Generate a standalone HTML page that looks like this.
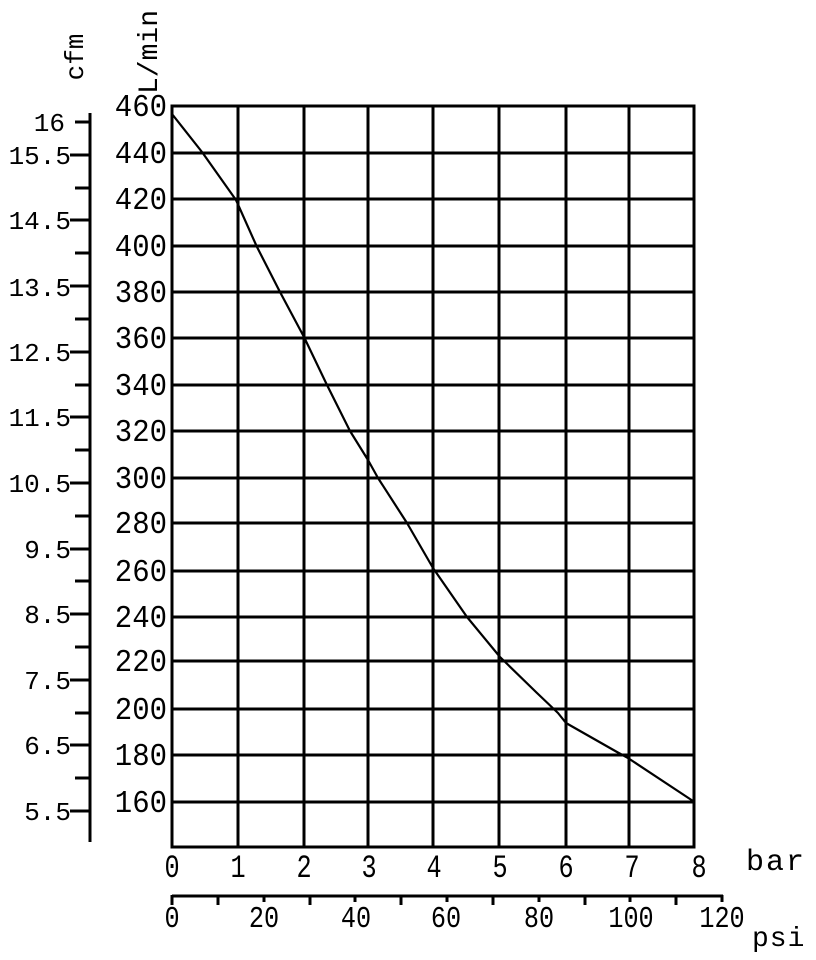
<!DOCTYPE html>
<html>
<head>
<meta charset="utf-8">
<style>
  html,body{margin:0;padding:0;background:#fff;}
  svg{display:block;}
  text{font-family:"Liberation Mono","DejaVu Sans Mono",monospace;fill:#000;}
</style>
</head>
<body>
<svg width="816" height="960" viewBox="0 0 816 960" xmlns="http://www.w3.org/2000/svg">
  <rect width="816" height="960" fill="#fff"/>
  <!-- grid -->
  <g stroke="#000" stroke-width="3" fill="none">
    <line x1="172" y1="106" x2="172" y2="847"/>
    <line x1="238" y1="106" x2="238" y2="847"/>
    <line x1="304" y1="106" x2="304" y2="847"/>
    <line x1="368" y1="106" x2="368" y2="847"/>
    <line x1="433" y1="106" x2="433" y2="847"/>
    <line x1="499" y1="106" x2="499" y2="847"/>
    <line x1="566" y1="106" x2="566" y2="847"/>
    <line x1="629" y1="106" x2="629" y2="847"/>
    <line x1="694" y1="106" x2="694" y2="847"/>
    <line x1="170.5" y1="106" x2="695.5" y2="106"/>
    <line x1="170.5" y1="153" x2="695.5" y2="153"/>
    <line x1="170.5" y1="199" x2="695.5" y2="199"/>
    <line x1="170.5" y1="246" x2="695.5" y2="246"/>
    <line x1="170.5" y1="292" x2="695.5" y2="292"/>
    <line x1="170.5" y1="338" x2="695.5" y2="338"/>
    <line x1="170.5" y1="385" x2="695.5" y2="385"/>
    <line x1="170.5" y1="431" x2="695.5" y2="431"/>
    <line x1="170.5" y1="478" x2="695.5" y2="478"/>
    <line x1="170.5" y1="523" x2="695.5" y2="523"/>
    <line x1="170.5" y1="571" x2="695.5" y2="571"/>
    <line x1="170.5" y1="617" x2="695.5" y2="617"/>
    <line x1="170.5" y1="661" x2="695.5" y2="661"/>
    <line x1="170.5" y1="709" x2="695.5" y2="709"/>
    <line x1="170.5" y1="755" x2="695.5" y2="755"/>
    <line x1="170.5" y1="802" x2="695.5" y2="802"/>
    <line x1="170.5" y1="847" x2="695.5" y2="847"/>
  </g>
  <!-- curve -->
  <polyline fill="none" stroke="#000" stroke-width="2.2" stroke-linejoin="round"
    points="172,114 202,152 236,200 257,247 280,292 304,337 327,385 350,431 368,460 378,478 407,523 433,568 467,617 500,657 537,693 558,713 566,723 617,752 628,758 693,801"/>

  <!-- L/min labels -->
  <g font-size="29" text-anchor="end">
    <text transform="translate(167,116) scale(1,1.1)">460</text>
    <text transform="translate(167,163) scale(1,1.1)">440</text>
    <text transform="translate(167,209) scale(1,1.1)">420</text>
    <text transform="translate(167,256) scale(1,1.1)">400</text>
    <text transform="translate(167,302) scale(1,1.1)">380</text>
    <text transform="translate(167,348) scale(1,1.1)">360</text>
    <text transform="translate(167,395) scale(1,1.1)">340</text>
    <text transform="translate(167,441) scale(1,1.1)">320</text>
    <text transform="translate(167,488) scale(1,1.1)">300</text>
    <text transform="translate(167,533) scale(1,1.1)">280</text>
    <text transform="translate(167,581) scale(1,1.1)">260</text>
    <text transform="translate(167,627) scale(1,1.1)">240</text>
    <text transform="translate(167,671) scale(1,1.1)">220</text>
    <text transform="translate(167,719) scale(1,1.1)">200</text>
    <text transform="translate(167,765) scale(1,1.1)">180</text>
    <text transform="translate(167,812) scale(1,1.1)">160</text>
  </g>

  <!-- cfm axis -->
  <g stroke="#000" stroke-width="3">
    <line x1="90" y1="113" x2="90" y2="842"/>
    <line x1="75" y1="122" x2="90" y2="122"/>
    <line x1="70" y1="155" x2="90" y2="155"/>
    <line x1="75" y1="188" x2="90" y2="188"/>
    <line x1="70" y1="220" x2="90" y2="220"/>
    <line x1="75" y1="253" x2="90" y2="253"/>
    <line x1="70" y1="286" x2="90" y2="286"/>
    <line x1="75" y1="319" x2="90" y2="319"/>
    <line x1="70" y1="352" x2="90" y2="352"/>
    <line x1="75" y1="385" x2="90" y2="385"/>
    <line x1="70" y1="417" x2="90" y2="417"/>
    <line x1="75" y1="450" x2="90" y2="450"/>
    <line x1="70" y1="483" x2="90" y2="483"/>
    <line x1="75" y1="516" x2="90" y2="516"/>
    <line x1="70" y1="549" x2="90" y2="549"/>
    <line x1="75" y1="581" x2="90" y2="581"/>
    <line x1="70" y1="614" x2="90" y2="614"/>
    <line x1="75" y1="647" x2="90" y2="647"/>
    <line x1="70" y1="680" x2="90" y2="680"/>
    <line x1="75" y1="713" x2="90" y2="713"/>
    <line x1="70" y1="745" x2="90" y2="745"/>
    <line x1="75" y1="778" x2="90" y2="778"/>
    <line x1="70" y1="811" x2="90" y2="811"/>
  </g>
  <g font-size="26" text-anchor="end">
    <text x="65" y="131">16</text>
    <text x="71" y="164">15.5</text>
    <text x="71" y="229">14.5</text>
    <text x="71" y="296">13.5</text>
    <text x="71" y="361">12.5</text>
    <text x="71" y="426">11.5</text>
    <text x="71" y="492">10.5</text>
    <text x="71" y="558">9.5</text>
    <text x="71" y="623">8.5</text>
    <text x="71" y="689">7.5</text>
    <text x="71" y="754">6.5</text>
    <text x="71" y="820">5.5</text>
  </g>

  <!-- axis titles -->
  <text font-size="26" text-anchor="middle" transform="translate(83,57) rotate(-90)">cfm</text>
  <text font-size="28" text-anchor="middle" transform="translate(157,52) rotate(-90)">L/min</text>

  <!-- bar labels -->
  <g font-size="28" text-anchor="middle">
    <text transform="translate(172,877) scale(0.9,1.15)">0</text>
    <text transform="translate(238,877) scale(0.9,1.15)">1</text>
    <text transform="translate(304,877) scale(0.9,1.15)">2</text>
    <text transform="translate(369,877) scale(0.9,1.15)">3</text>
    <text transform="translate(434,877) scale(0.9,1.15)">4</text>
    <text transform="translate(500,877) scale(0.9,1.15)">5</text>
    <text transform="translate(566,877) scale(0.9,1.15)">6</text>
    <text transform="translate(632,877) scale(0.9,1.15)">7</text>
    <text transform="translate(699,877) scale(0.9,1.15)">8</text>
  </g>
  <text x="746" y="870" font-size="30" letter-spacing="2">bar</text>

  <!-- psi axis -->
  <g stroke="#000" stroke-width="3">
    <line x1="172" y1="896" x2="723" y2="896"/>
    <line x1="172" y1="895" x2="172" y2="905"/>
    <line x1="218" y1="895" x2="218" y2="905"/>
    <line x1="264" y1="895" x2="264" y2="902"/>
    <line x1="310" y1="895" x2="310" y2="905"/>
    <line x1="355" y1="895" x2="355" y2="902"/>
    <line x1="401" y1="895" x2="401" y2="905"/>
    <line x1="447" y1="895" x2="447" y2="902"/>
    <line x1="493" y1="895" x2="493" y2="905"/>
    <line x1="539" y1="895" x2="539" y2="902"/>
    <line x1="585" y1="895" x2="585" y2="905"/>
    <line x1="630" y1="895" x2="630" y2="902"/>
    <line x1="676" y1="895" x2="676" y2="905"/>
    <line x1="722" y1="895" x2="722" y2="902"/>
  </g>
  <g font-size="28" text-anchor="middle">
    <text transform="translate(172,927) scale(0.9,1.1)">0</text>
    <text transform="translate(264,927) scale(0.9,1.1)">20</text>
    <text transform="translate(356,927) scale(0.9,1.1)">40</text>
    <text transform="translate(446,927) scale(0.9,1.1)">60</text>
    <text transform="translate(539,927) scale(0.9,1.1)">80</text>
    <text transform="translate(631,927) scale(0.9,1.1)">100</text>
    <text transform="translate(722,927) scale(0.9,1.1)">120</text>
  </g>
  <text x="752" y="946" font-size="28" letter-spacing="1">psi</text>
</svg>
</body>
</html>
